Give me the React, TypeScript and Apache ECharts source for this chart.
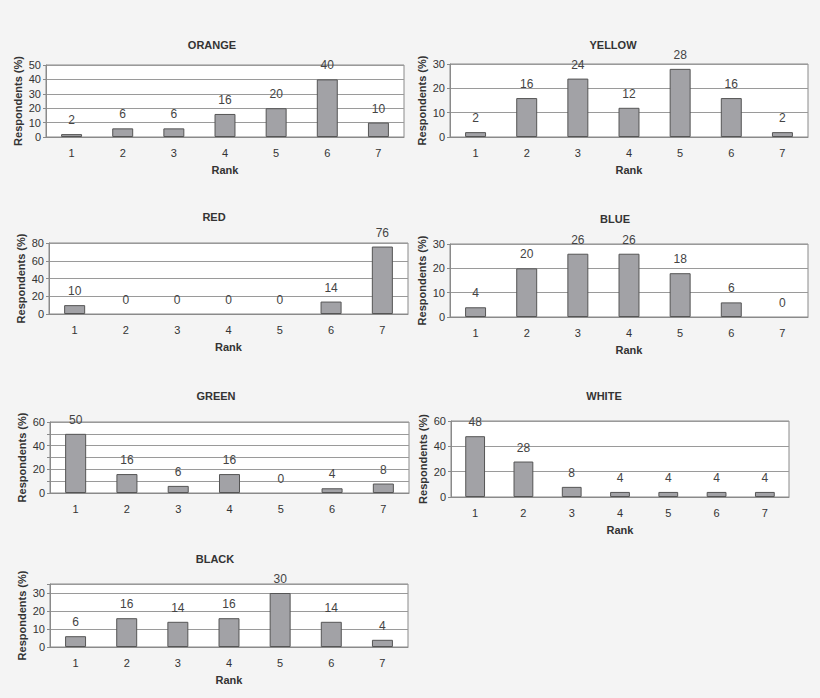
import React, { useEffect, useRef } from 'react';
import * as echarts from 'echarts';

const ranks = ['1', '2', '3', '4', '5', '6', '7'];

const orange = [2, 6, 6, 16, 20, 40, 10];
const yellow = [2, 16, 24, 12, 28, 16, 2];
const red = [10, 0, 0, 0, 0, 14, 76];
const blue = [4, 20, 26, 26, 18, 6, 0];
const green = [50, 16, 6, 16, 0, 4, 8];
const white = [48, 28, 8, 4, 4, 4, 4];
const black = [6, 16, 14, 16, 30, 14, 4];

type Panel = {
  name: string;
  data: number[];
  max: number;
  interval: number;
  labelEvery: number;
  showRank: boolean;
  titleAt: [number, number]; // centre of the panel title
  box: [number, number, number, number]; // left, top, width, height
};

const panels: Panel[] = [
  { name: 'ORANGE', data: orange, max: 50, interval: 10, labelEvery: 10, showRank: true, titleAt: [212, 46], box: [46, 65, 358, 72] },
  { name: 'YELLOW', data: yellow, max: 30, interval: 10, labelEvery: 10, showRank: true, titleAt: [613, 46], box: [450, 64, 358, 73] },
  { name: 'RED', data: red, max: 80, interval: 20, labelEvery: 20, showRank: true, titleAt: [214, 218], box: [49, 243, 359, 71] },
  { name: 'BLUE', data: blue, max: 30, interval: 10, labelEvery: 10, showRank: true, titleAt: [615, 220], box: [450, 244, 358, 73] },
  { name: 'GREEN', data: green, max: 60, interval: 10, labelEvery: 20, showRank: false, titleAt: [216, 397], box: [50, 422, 359, 71] },
  { name: 'WHITE', data: white, max: 60, interval: 20, labelEvery: 20, showRank: true, titleAt: [604, 397], box: [451, 421, 338, 76] },
  { name: 'BLACK', data: black, max: 35, interval: 10, labelEvery: 10, showRank: true, titleAt: [215, 560], box: [50, 584, 358, 63] },
];

const FONT = '"Liberation Sans", Arial, sans-serif';
const TEXT = '#333';

export default function App() {
  const ref = useRef<HTMLDivElement | null>(null);

  useEffect(() => {
    document.body.style.margin = '0';
    document.body.style.background = '#f4f4f4';
    if (!ref.current) return;
    const inst = echarts.init(ref.current, undefined, { renderer: 'svg' });

    const grid = panels.map((p) => ({
      left: p.box[0],
      top: p.box[1],
      width: p.box[2],
      height: p.box[3],
      show: true,
      backgroundColor: '#fff',
      borderColor: '#8a8a8a',
      borderWidth: 1,
    }));

    const title = panels.map((p) => ({
      text: p.name,
      left: p.titleAt[0],
      top: p.titleAt[1] - 7,
      padding: 0,
      textAlign: 'center',
      textStyle: { fontFamily: FONT, fontSize: 11, fontWeight: 'bold', color: TEXT },
    }));

    const xAxis = panels.map((p, i) => ({
      type: 'category',
      gridIndex: i,
      data: ranks,
      name: p.showRank ? 'Rank' : '',
      nameLocation: 'middle',
      nameGap: 27,
      nameTextStyle: { fontFamily: FONT, fontSize: 11, fontWeight: 'bold', color: TEXT },
      axisLine: { show: true, lineStyle: { color: '#8a8a8a' } },
      axisTick: { show: false },
      axisLabel: { fontFamily: FONT, fontSize: 11, color: TEXT, margin: 10 },
    }));

    const yAxis = panels.map((p, i) => ({
      type: 'value',
      gridIndex: i,
      min: 0,
      max: p.max,
      interval: p.interval,
      name: 'Respondents (%)',
      nameLocation: 'middle',
      nameGap: 23,
      nameTextStyle: { fontFamily: FONT, fontSize: 11, fontWeight: 'bold', color: TEXT },
      axisLine: { show: true, lineStyle: { color: '#8a8a8a' } },
      axisTick: { show: true, length: 3, lineStyle: { color: '#8a8a8a' } },
      axisLabel: {
        fontFamily: FONT,
        fontSize: 11,
        color: TEXT,
        margin: 5,
        formatter: (v: number) => (v % p.labelEvery === 0 && v % p.interval === 0 ? String(v) : ''),
      },
      splitLine: { show: true, lineStyle: { color: '#9a9a9a', width: 1 } },
    }));

    const series = panels.map((p, i) => ({
      type: 'bar',
      xAxisIndex: i,
      yAxisIndex: i,
      // zero values keep their label but draw no outline
      data: p.data.map((v) => (v === 0 ? { value: v, itemStyle: { borderWidth: 0 } } : v)),
      barWidth: '41%',
      itemStyle: { color: '#a2a2a6', borderColor: '#555', borderWidth: 1 },
      label: {
        show: true,
        position: 'top',
        distance: 8,
        fontFamily: FONT,
        fontSize: 12,
        color: '#444',
      },
    }));

    inst.setOption({
      animation: false,
      backgroundColor: '#f4f4f4',
      title,
      grid,
      xAxis,
      yAxis,
      series,
    });

    return () => {
      inst.dispose();
    };
  }, []);

  return <div ref={ref} style={{ width: 820, height: 698 }} />;
}
